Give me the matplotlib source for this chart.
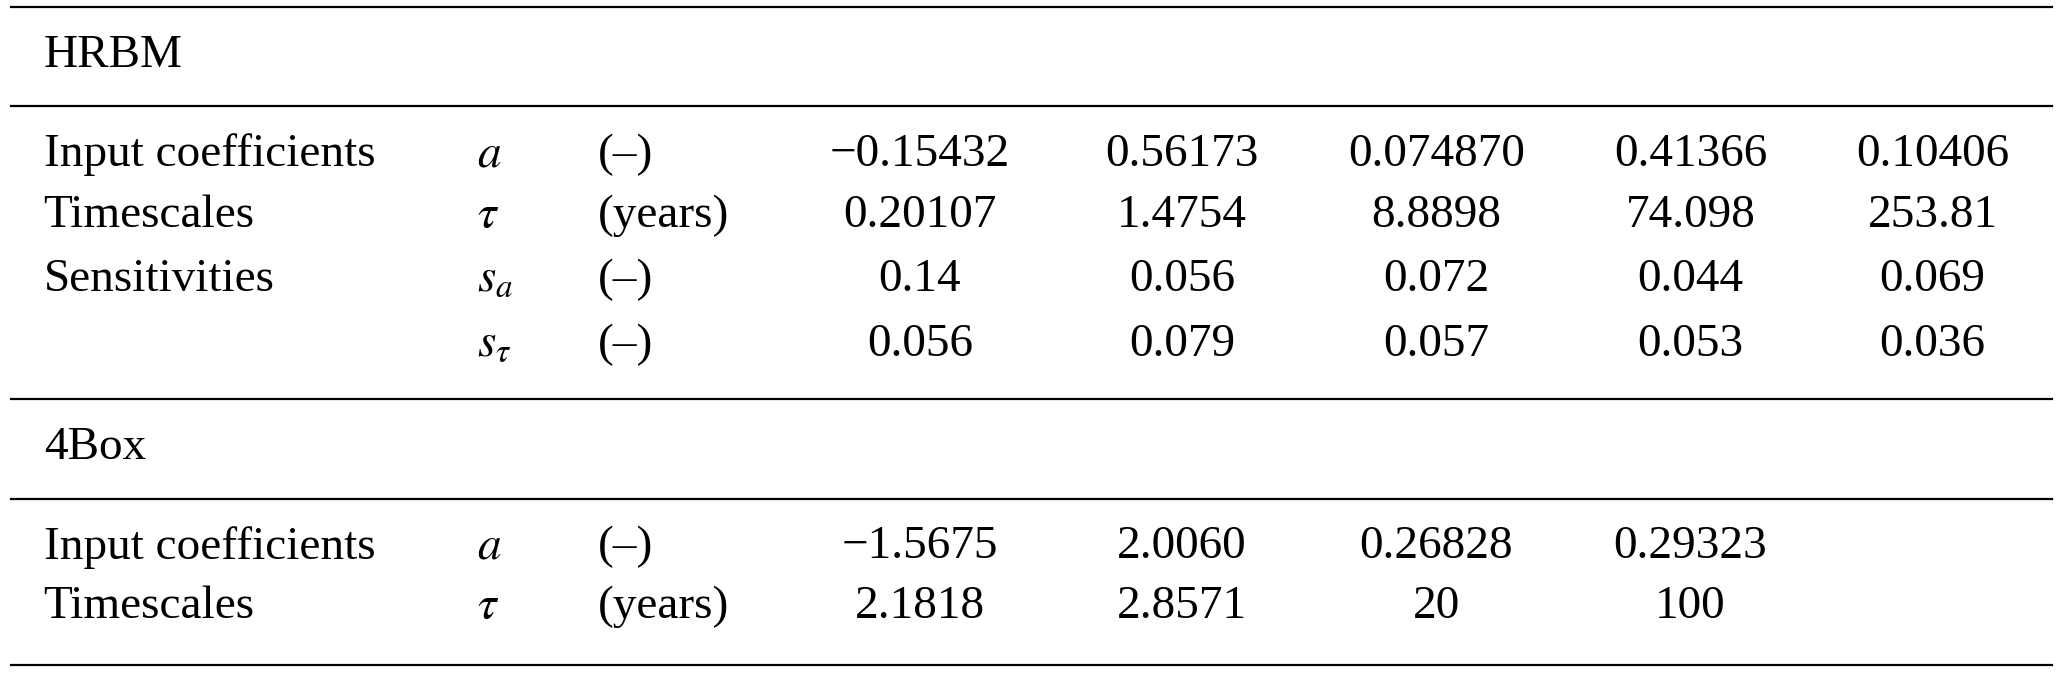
import matplotlib
matplotlib.use("Agg")
import matplotlib.pyplot as plt

plt.rcParams['font.family'] = ['Liberation Serif', 'DejaVu Serif']
plt.rcParams['mathtext.fontset'] = 'stix'

# table data
hrbm_labels = ["Input coefficients", "Timescales", "Sensitivities", ""]
hrbm_symbols = [r"$a$", r"$\tau$", r"$s_a$", r"$s_\tau$"]
hrbm_units = ["(–)", "(years)", "(–)", "(–)"]
hrbm_values = [
    ["−0.15432", "0.56173", "0.074870", "0.41366", "0.10406"],
    ["0.20107", "1.4754", "8.8898", "74.098", "253.81"],
    ["0.14", "0.056", "0.072", "0.044", "0.069"],
    ["0.056", "0.079", "0.057", "0.053", "0.036"],
]
box_labels = ["Input coefficients", "Timescales"]
box_symbols = [r"$a$", r"$\tau$"]
box_units = ["(–)", "(years)"]
box_values = [
    ["−1.5675", "2.0060", "0.26828", "0.29323"],
    ["2.1818", "2.8571", "20", "100"],
]

fig = plt.figure(figsize=(20.65, 6.73), dpi=100)
ax = fig.add_axes([0, 0, 1, 1])
ax.set_xlim(0, 1560)
ax.set_ylim(508, 0)
ax.axis("off")

fs = 34
col_x = [695, 893, 1085, 1277, 1460]

for y in [5, 80, 301, 377, 502]:
    ax.plot([8, 1550], [y, y], color="black", lw=1.6)


def draw_rows(labels, symbols, units, values, ys):
    for lab, sym, unit, vals, y in zip(labels, symbols, units, values, ys):
        ax.text(33, y, lab, fontsize=fs, va="center", ha="left")
        ax.text(360, y, sym, fontsize=fs, va="center", ha="left")
        ax.text(452, y, unit, fontsize=fs, va="center", ha="left")
        for x, v in zip(col_x, vals):
            ax.text(x, y, v, fontsize=fs, va="center", ha="center")


ax.text(33, 42, "HRBM", fontsize=fs, va="center", ha="left")
draw_rows(hrbm_labels, hrbm_symbols, hrbm_units, hrbm_values, [117, 163, 211, 260])
ax.text(33, 338, "4Box", fontsize=fs, va="center", ha="left")
draw_rows(box_labels, box_symbols, box_units, box_values, [413, 458])

fig.savefig("out.png", dpi=100)
